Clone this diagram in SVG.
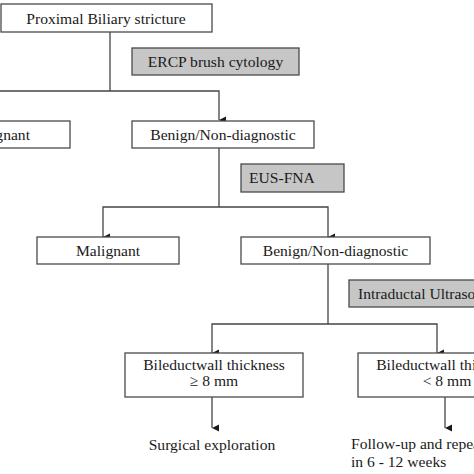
<svg xmlns="http://www.w3.org/2000/svg" width="474" height="474" viewBox="0 0 474 474">
<style>
.box{fill:#fff;stroke:#4a4a4a;stroke-width:1.3}
.gbox{fill:#c6c6c6;stroke:#4a4a4a;stroke-width:1.3}
.t{font-family:"Liberation Serif","Times New Roman",serif;font-size:15.6px;fill:#1a1a1a}
.c{text-anchor:middle}
.ln{fill:none;stroke:#444;stroke-width:1.3}
</style>
<defs>
<marker id="ah" markerWidth="8" markerHeight="8" refX="4" refY="7" orient="auto-start-reverse" markerUnits="userSpaceOnUse" viewBox="0 0 8 8">
<path d="M0.5,0 L7.5,0 L4,7 Z" fill="#1a1a1a"/>
</marker>
</defs>
<rect width="474" height="474" fill="#fff"/>
<g id="connectors">
<path class="ln" d="M110,32 V91"/>
<path class="ln" d="M-60,91 H219 V120" marker-end="url(#ah)"/>
<path class="ln" d="M219,148 V207"/>
<path class="ln" d="M103,237 V207 H328 V237" marker-start="url(#ah)" marker-end="url(#ah)"/>
<path class="ln" d="M328,264 V324"/>
<path class="ln" d="M212,353 V324 H437 V353" marker-start="url(#ah)" marker-end="url(#ah)"/>
<path class="ln" d="M212,397 V428" marker-end="url(#ah)"/>
<path class="ln" d="M445,397 V428" marker-end="url(#ah)"/>
</g>
<g id="n-start"><rect class="box" x="1" y="4" width="211" height="28"/><text class="t c" x="106" y="23.5">Proximal Biliary stricture</text></g>
<g id="n-ercp"><rect class="gbox" x="132" y="48" width="167" height="27"/><text class="t c" x="215.5" y="67">ERCP brush cytology</text></g>
<g id="n-malig1"><rect class="box" x="-110" y="121" width="180" height="27"/><text class="t" x="30" y="140" text-anchor="end">Malignant</text></g>
<g id="n-benign1"><rect class="box" x="132" y="121" width="182" height="27"/><text class="t c" x="223" y="140">Benign/Non-diagnostic</text></g>
<g id="n-eus"><rect class="gbox" x="241" y="164" width="103" height="28"/><text class="t" x="249" y="183">EUS-FNA</text></g>
<g id="n-malig2"><rect class="box" x="37" y="237" width="142" height="27"/><text class="t c" x="108" y="256">Malignant</text></g>
<g id="n-benign2"><rect class="box" x="241" y="237" width="189" height="27"/><text class="t c" x="335.5" y="256">Benign/Non-diagnostic</text></g>
<g id="n-ivus"><rect class="gbox" x="349" y="280" width="180" height="27"/><text class="t" x="358" y="299">Intraductal Ultrasound</text></g>
<g id="n-thick"><rect class="box" x="125" y="353" width="178" height="44"/><text class="t c" x="214" y="370">Bileductwall thickness</text><text class="t c" x="214" y="386">≥ 8 mm</text></g>
<g id="n-thin"><rect class="box" x="358" y="353" width="178" height="44"/><text class="t c" x="447" y="370">Bileductwall thickness</text><text class="t c" x="447" y="386">&lt; 8 mm</text></g>
<g id="n-surg"><text class="t c" x="212" y="450">Surgical exploration</text></g>
<g id="n-follow"><text class="t" x="351" y="449">Follow-up and repeat IDUS</text><text class="t" x="351" y="467">in 6 - 12 weeks</text></g>
</svg>
